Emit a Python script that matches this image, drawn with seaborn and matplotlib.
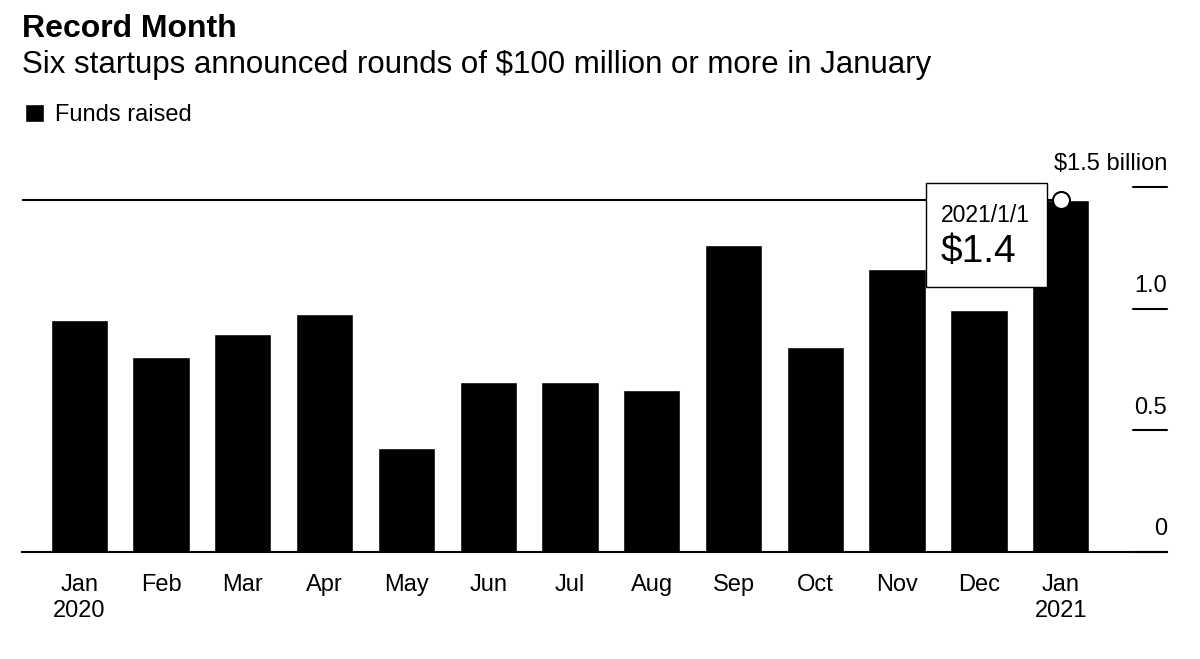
import matplotlib
matplotlib.use("Agg")
import matplotlib.pyplot as plt
import matplotlib.transforms as mtransforms
from matplotlib.patches import Patch, Rectangle
import seaborn as sns
import pandas as pd

# data (billions USD)
months = ["Jan\n2020", "Feb", "Mar", "Apr", "May", "Jun", "Jul", "Aug",
          "Sep", "Oct", "Nov", "Dec", "Jan\n2021"]
funds = [0.953, 0.801, 0.895, 0.977, 0.427, 0.698, 0.698, 0.665,
         1.261, 0.842, 1.162, 0.994, 1.444]
ytick_vals = [0, 0.5, 1.0, 1.5]
ytick_labels = ["0", "0.5", "1.0", "$1.5 billion"]
last_date = "2021/1/1"

df = pd.DataFrame({"month": months, "funds": funds})

sns.set_style("white")
plt.rcParams["font.family"] = ["Liberation Sans", "DejaVu Sans"]
plt.rcParams["text.color"] = "black"

W, H = 1200, 659
fig = plt.figure(figsize=(W / 100, H / 100), dpi=100)
ax = fig.add_axes([22 / W, 107 / H, 1145 / W, 389.6 / H])

sns.barplot(data=df, x="month", y="funds", color="black", saturation=1,
            width=0.7, ax=ax)
ax.set_xlim(-0.70, 13.30)
ax.set_ylim(0, 1.6)
ax.set_xlabel("")
ax.set_ylabel("")
ax.set_yticks([])

for s in ["top", "left", "right"]:
    ax.spines[s].set_visible(False)
ax.spines["bottom"].set_linewidth(1.5)
ax.spines["bottom"].set_color("black")
ax.tick_params(axis="x", length=10, width=1.2, color="black", pad=6,
               labelsize=17, labelcolor="black")

# right-side value ticks: short line with label sitting above
blend = mtransforms.blended_transform_factory(ax.transAxes, ax.transData)
for v, lab in zip(ytick_vals, ytick_labels):
    ax.plot([0.97, 1.0], [v, v], transform=blend, color="black", lw=1.5,
            clip_on=False)
    ax.annotate(lab, xy=(1.0, v), xycoords=blend, xytext=(0, 12),
                textcoords="offset points", ha="right", va="baseline",
                fontsize=17, color="black")

# reference line at latest value + marker
last = len(months) - 1
ax.hlines(funds[-1], -0.70, last, color="black", lw=1.5, zorder=3)
ax.scatter([last], [funds[-1]], s=150, facecolor="white", edgecolor="black",
           linewidth=1.5, zorder=5, clip_on=False)

# tooltip box
fig.add_artist(Rectangle((926 / W, (H - 287) / H), 121 / W, 104 / H,
                         transform=fig.transFigure, facecolor="white",
                         edgecolor="black", lw=1, zorder=6))
fig.text(941 / W, (H - 222) / H, last_date, fontsize=16.5, va="baseline",
         ha="left", zorder=7)
fig.text(941 / W, (H - 262) / H, f"${funds[-1]:.1f}", fontsize=28,
         va="baseline", ha="left", zorder=7)

# titles
fig.text(22 / W, (H - 37) / H, "Record Month", fontsize=23,
         fontweight="bold", va="baseline", ha="left")
fig.text(22 / W, (H - 73) / H,
         "Six startups announced rounds of $100 million or more in January",
         fontsize=22.5, va="baseline", ha="left")

fig.legend(handles=[Patch(facecolor="black")], labels=["Funds raised"],
           loc="lower left", bbox_to_anchor=(25 / W, (H - 126) / H),
           frameon=False, fontsize=17, handlelength=0.8, handleheight=0.8,
           handletextpad=0.45, borderpad=0, borderaxespad=0)

fig.savefig("out.png", dpi=100)
